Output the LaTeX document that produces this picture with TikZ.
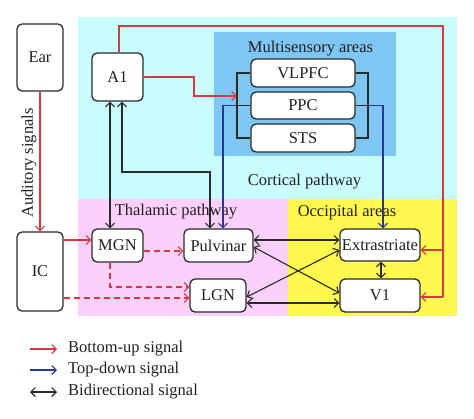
\documentclass[tikz,border=0pt]{standalone}
\usepackage{fontspec}
\setmainfont{Liberation Serif}
\usetikzlibrary{arrows.meta}
\definecolor{cyanbg}{HTML}{C9FCFD}
\definecolor{multibg}{HTML}{7EC6F4}
\definecolor{pinkbg}{HTML}{FBD0FA}
\definecolor{yellowbg}{HTML}{FFF84E}
\definecolor{redline}{HTML}{D8383F}
\definecolor{blueline}{HTML}{2B3593}
\definecolor{darkline}{HTML}{2A2A2A}
\definecolor{txt}{HTML}{231F20}
\tikzset{
  box/.style={draw=darkline, line width=1.3pt, rounded corners=5pt, fill=white, inner sep=0pt, text=txt, font=\fontsize{16.5}{18}\selectfont},
  lbl/.style={text=txt, inner sep=0pt, font=\fontsize{16.5}{18}\selectfont},
  tip/.style={>={Straight Barb[length=4.5pt,width=9pt,line width=1.1pt]}},
  redarr/.style={tip, draw=redline, line width=1.1pt, ->},
  redline/.style={draw=redline, line width=1.1pt},
  bluearr/.style={tip, draw=blueline, line width=1.1pt, ->},
  blueline/.style={draw=blueline, line width=1.1pt},
  biarr/.style={tip, draw=darkline, line width=1.1pt, <->},
  blackline/.style={draw=darkline, line width=1.1pt},
  dashedred/.style={redarr, dash pattern=on 6pt off 4pt}
}
\begin{document}
\begin{tikzpicture}[x=1pt,y=-1pt]
\useasboundingbox (0,0) rectangle (474,418);
% regions
\fill[cyanbg] (78,17) rectangle (457,199);
\fill[pinkbg] (78,199) rectangle (288,316);
\fill[yellowbg] (288,199) rectangle (457,316);
\fill[multibg] (214,32) rectangle (396,156);
% labels
\node[lbl] (lmulti) at (310.5,49) {Multisensory areas};
\node[lbl] (lcort) at (304.5,182) {Cortical pathway};
\node[lbl] (lthal) at (176,212) {Thalamic pathway};
\node[lbl] (locc) at (347,213) {Occipital areas};
\node[lbl, rotate=90] (laud) at (29,163) {Auditory signals};
% boxes
\node[box, minimum width=46pt, minimum height=67pt] (ear) at (40,57.5) {Ear};
\node[box, minimum width=46pt, minimum height=79pt] (ic) at (40,271.5) {IC};
\node[box, minimum width=51pt, minimum height=48pt] (a1) at (117.5,77) {A1};
\node[box, minimum width=104pt, minimum height=28pt] (vlpfc) at (303,73) {VLPFC};
\node[box, minimum width=104pt, minimum height=27pt] (ppc) at (303,105.5) {PPC};
\node[box, minimum width=104pt, minimum height=28pt] (sts) at (303,138) {STS};
\node[box, minimum width=51pt, minimum height=33pt] (mgn) at (117.5,245.5) {MGN};
\node[box, minimum width=69pt, minimum height=33pt] (pulv) at (218.5,245.5) {Pulvinar};
\node[box, minimum width=56pt, minimum height=33pt] (lgn) at (218,295.5) {LGN};
\node[box, minimum width=80pt, minimum height=32pt] (extra) at (380,245) {Extrastriate};
\node[box, minimum width=80pt, minimum height=33pt] (v1) at (380,295.5) {V1};
% helper coordinates
\coordinate (lb1) at (237,73);
\coordinate (lb2) at (237,105.5);
\coordinate (lb3) at (237,138);
\coordinate (rb1) at (368,73);
\coordinate (rb2) at (368,105.5);
\coordinate (rb3) at (368,138);
\coordinate (a1in) at (237,96);
\coordinate (topr) at (443,26);
\coordinate (rdown) at (443,297);
\coordinate (rbranch) at (443,250);
% brackets
\draw[blackline] (vlpfc.west) -- (lb1) -- (lb3) -- (sts.west);
\draw[blackline] (ppc.west) -- (lb2);
\draw[blackline] (vlpfc.east) -- (rb1) -- (rb3) -- (sts.east);
\draw[blackline] (ppc.east) -- (rb2);
% red
\draw[redarr] (ear) -- (ic);
\draw[redarr] (ic.east |- 0,240) -- (mgn.west |- 0,240);
\draw[dashedred] (mgn.east |- 0,251) -- (pulv.west |- 0,251);
\draw[dashedred] (mgn.south -| 110,0) -- (110,287) -- (lgn.west |- 0,287);
\draw[dashedred] (ic.east |- 0,298) -- (lgn.west |- 0,298);
\draw[redarr] (a1.east) -- (194,77) -- (194,96) -- (a1in);
\draw[redline] (a1.north -| 119,0) -- (119,26) -- (topr) -- (rdown);
\draw[redarr] (rdown) -- (v1.east |- rdown);
\draw[redarr] (rbranch) -- (extra.east |- rbranch);
% blue
\draw[bluearr] (lb2) -- (223,105.5) -- (pulv.north -| 223,0);
\draw[bluearr] (rb2) -- (383,105.5) -- (extra.north -| 383,0);
% bidirectional
\draw[biarr] (a1.south -| 110,0) -- (mgn.north -| 110,0);
\draw[biarr] (a1.south -| 122,0) -- (122,172) -- (210,172) -- (pulv.north -| 210,0);
\draw[biarr] (pulv.east |- 0,240) -- (extra.west |- 0,240);
\draw[biarr] (pulv.east |- 0,247) -- (v1.west |- 0,293);
\draw[biarr] (lgn.east |- 0,297) -- (extra.west |- 0,250);
\draw[biarr] (lgn.east |- 0,303) -- (v1.west |- 0,303);
\draw[biarr] (extra.south -| 381,0) -- (v1.north -| 381,0);
% legend
\coordinate (g1a) at (30,349); \coordinate (g1b) at (57,349);
\coordinate (g2a) at (30,370); \coordinate (g2b) at (57,370);
\coordinate (g3a) at (30,392); \coordinate (g3b) at (57,392);
\draw[redarr] (g1a) -- (g1b);
\draw[bluearr] (g2a) -- (g2b);
\draw[biarr] (g3a) -- (g3b);
\node[lbl, anchor=west] (t1) at (68,349) {Bottom-up signal};
\node[lbl, anchor=west] (t2) at (68,370) {Top-down signal};
\node[lbl, anchor=west] (t3) at (68,392) {Bidirectional signal};
\end{tikzpicture}
\end{document}
